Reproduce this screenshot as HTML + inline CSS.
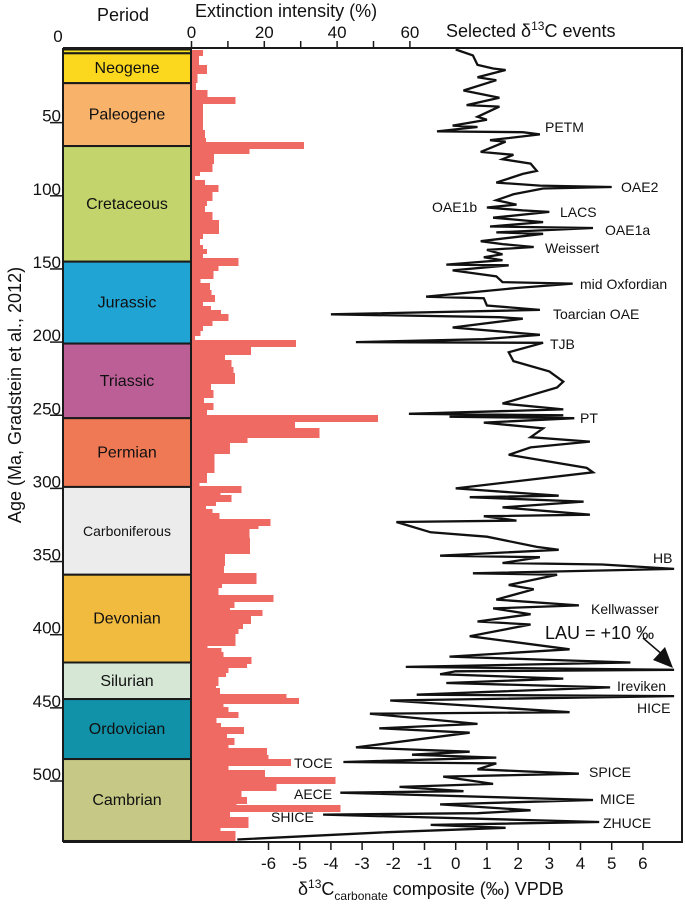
<!DOCTYPE html>
<html><head><meta charset="utf-8"><style>
html,body{margin:0;padding:0;background:#fff;}
svg{display:block;font-family:"Liberation Sans",Arial,sans-serif;}
</style></head><body>
<svg id="chart" width="685" height="904" viewBox="0 0 685 904" xmlns="http://www.w3.org/2000/svg">
<g id="periods"></g>
<g id="bars" shape-rendering="crispEdges"></g>
<g id="curve"></g>
<g id="axes"></g>
<g id="labels"></g>
</svg>
<script>
const periodNames=["","Neogene","Paleogene","Cretaceous","Jurassic","Triassic","Permian","Carboniferous","Devonian","Silurian","Ordovician","Cambrian"];
const periodStarts=[0,2.6,23,66,145,201,252,299,359,419,444,485];
const periodEnds=[2.6,23,66,145,201,252,299,359,419,444,485,541];
const periodColors=["#f9e31c","#fbd81e","#f8b26a","#c2d46b","#20a4d4","#bb5f96","#f07955","#ececec","#f1bb3f","#d6e8d5","#1192a8","#c6c985"];
const ageTicks=[50,100,150,200,250,300,350,400,450,500];
const extTicks=[0,10,20,30,40,50,60];
const extTickLabels=["0","","20","","40","","60"];
const d13Ticks=[-6,-5,-4,-3,-2,-1,0,1,2,3,4,5,6];
const extEdges=[0,3.8,10.6,16.3,22,27.7,32.2,36.8,55,60.7,63.4,67.5,71,77.8,83,85.8,89.2,92.6,96.7,102.9,106.3,110.8,116.5,125.6,129.1,133.6,136.4,139.3,142.7,147.3,150.7,156.4,159.8,164.4,167.8,171.9,175.1,178.1,181,184.9,188.3,191.7,195.1,198.6,202.4,208.4,212.2,216.8,221.3,228.2,232.7,237.3,241.8,245.7,249.8,254,259,264.6,268.5,
276,288.5,295.4,298.3,302.2,304.5,308.6,311.3,314.3,317,320.9,325,327.3,334.1,344.4,352.3,358,364.4,367.2,372.8,377,380.8,383.1,386.5,392.2,395.6,399,407,409.3,411.6,415,419.5,421.8,425.3,428.2,434.4,436.6,440.5,443.5,446.9,449.2,452.6,456,460.1,463.3,467.4,470.8,474.7,477.7,482.2,485.2,489.1,492.5,497,501.6,506.1,510.7,514.8,516.4,520.3,524.4,527.8,531.2,533.9,538,541];
const extValues=[3.1,2.1,4.2,1.6,1.2,4.4,12.1,3.1,3.7,4,30.9,15.9,6.2,5.8,2.3,1,3.7,7.4,5.8,4.2,3.7,5.8,7.5,3.2,2.3,3.2,4.2,3.1,12.9,7.4,6,2.5,5.1,5.5,6.5,3.2,5.3,8.1,10.1,5.8,3.1,2.5,1,28.7,16.4,9.2,11,11.5,11.9,5.4,6,3.4,6,4.2,51.3,28.4,35.1,15.4,10.6,
6.3,4.2,2.2,13.8,8,11,6.7,4,5.8,7.7,21.7,18.4,15.9,16.1,9.2,8.9,17.9,8.4,7.4,22.5,11.8,10.6,19.5,16.4,14.2,12.9,12.1,4.4,8.3,8.8,16.5,15.3,10.1,9.5,7.4,6.7,7.8,26.1,29.6,8.8,10.1,12.9,6.9,8.1,14.4,9.7,11.8,10.1,20.7,21.1,27.3,10.1,20.2,39.6,23.4,13.8,15.3,12.4,41,10.6,15.6,15.6,8,12.1,12.1];
const curveAges=[0,4,10.5,13,14,19,21,28,33,38,39,46,48,52,53,56,56.5,58,62,63,70,72,75,78,83,85,91,93,94,95,99,103,106,108,110,111,115,118,121,122,125,126,131,133,135,137,140,142,144,145,147,147.5,151,155,159,160,163,169,170,175,178,181,183,184,190,195,198,200,200.5,207,213,220,227,231,242,246,249,250,251,252,255,259,265,268,272,277,286,289,300,305,306,309,313,318,319,322,323,330,333,340,342,346,347,351,352,355,358,359,366,369,376,380,382,386,391,393,401,410,415,419,422,424,425,427,430,433,436,439,441,442,445,453,454,461,464,467,477,480,482,484,487,488,492,495,497,502,504,507,508,513,516,520,522,523,528,530,532,535,540];
const curveValues=[0,0.55,0.7,1.2,1.6,0.7,1.3,0.25,1.4,0.35,1.4,0.7,1.0,-0.1,0.7,-0.6,2.15,2.7,1.1,1.6,0.8,1.85,1.5,2.4,2.6,2.15,1.3,2.7,5.0,2.8,1.85,1.3,1.95,1.0,2.15,3.0,1.2,2.8,1.1,4.4,1.3,2.8,0.8,1.5,2.5,1.0,1.5,0.9,1.5,0.9,-0.3,1.7,-0.1,1.3,1.5,3.75,1.95,-0.95,0.9,1.0,2.7,-4.0,1.4,2.15,-0.1,2.7,0.9,-3.2,2.8,1.7,1.85,3.0,3.45,3.25,1.5,3.45,-1.5,3.45,-0.2,3.8,0.9,2.8,2.4,4.3,2.4,1.7,4.2,4.4,0.0,3.3,0.45,4.1,1.5,4.3,0.9,1.95,-1.9,-0.8,1.0,2.6,3.3,-0.5,2.7,1.5,4.7,7.0,0.55,3.25,1.7,2.5,1.3,3.95,1.2,2.4,0.7,2.4,0.45,3.65,-0.2,5.6,-1.6,7.0,0.0,-0.5,3.45,-0.3,4.95,1.1,-1.25,7.0,-2.1,3.65,-2.75,0.7,-2.45,0.45,-3.2,0.45,-1.4,1.3,-3.6,1.3,0.7,3.95,-0.4,1.2,-1.8,0.25,-3.7,4.4,-0.5,2.4,0.7,-4.25,4.6,-0.8,1.6,-2.2,-7.0];
const eventNames=["PETM","OAE2","OAE1b","LACS","OAE1a","Weissert","mid Oxfordian","Toarcian OAE","TJB","PT","HB","Kellwasser","Ireviken","HICE","TOCE","AECE","SHICE","SPICE","MICE","ZHUCE"];

const NS="http://www.w3.org/2000/svg";
const X0=63,XP=191,XR=682,YT=48,YB=842;
function yAge(a){return 49.5+1.463*a;}
function xExt(p){return 191.5+3.64*p;}
function xD(v){return 455.7+31.2*v;}
function mk(tag,attrs,parent,txt){const e=document.createElementNS(NS,tag);for(const k in attrs)e.setAttribute(k,attrs[k]);if(txt!==undefined)e.textContent=txt;parent.appendChild(e);return e;}

const gP=document.getElementById('periods');
periodNames.forEach((n,i)=>{
  const y1=yAge(periodStarts[i]),y2=yAge(periodEnds[i]);
  const r=mk('rect',{x:X0,y:Math.max(y1,YT),width:XP-X0,height:y2-Math.max(y1,YT),fill:periodColors[i],stroke:'#1a1a1a','stroke-width':2},gP);
  
  
  if(n){const t=mk('text',{x:(X0+XP)/2,y:(y1+y2)/2+5,'text-anchor':'middle','font-size':n==='Carboniferous'?14:16,fill:'#111'},gP,n);
  
  }
});

const gB=document.getElementById('bars');
extValues.forEach((v,i)=>{
  const y1=Math.round(yAge(extEdges[i])),y2=Math.round(yAge(extEdges[i+1]));
  const yy=Math.max(y1,YT);
  const r=mk('rect',{x:XP,y:yy,width:xExt(v)-XP,height:y2-yy+1,fill:'#f06a64'},gB);
  
  
});

const gC=document.getElementById('curve');
mk('clipPath',{id:'clipbox'},gC).appendChild((()=>{const r=document.createElementNS(NS,'rect');r.setAttribute('x',XP);r.setAttribute('y',YT);r.setAttribute('width',XR-XP);r.setAttribute('height',YB-YT);return r;})());
let d=curveAges.map((a,i)=>(i?'L':'M')+xD(curveValues[i]).toFixed(1)+' '+yAge(a).toFixed(1)).join(' ');
const path=mk('path',{d:d,fill:'none',stroke:'#111','stroke-width':2.3,'stroke-linejoin':'miter','clip-path':'url(#clipbox)'},gC);



const gA=document.getElementById('axes');
const box=mk('rect',{x:XP,y:YT,width:XR-XP,height:YB-YT,fill:'none',stroke:'#1a1a1a','stroke-width':2},gA);

mk('line',{x1:X0,y1:YT,x2:XR,y2:YT,stroke:'#1a1a1a','stroke-width':2},gA);
mk('line',{x1:X0,y1:YB,x2:XR,y2:YB,stroke:'#1a1a1a','stroke-width':2},gA);
mk('line',{x1:X0,y1:YT,x2:X0,y2:YB,stroke:'#1a1a1a','stroke-width':2},gA);
ageTicks.forEach(a=>{const y=yAge(a);
  mk('line',{x1:50,y1:y,x2:X0,y2:y,stroke:'#1a1a1a','stroke-width':1.5},gA);
  const t=mk('text',{x:61,y:y-1,'text-anchor':'end','font-size':17,fill:'#111'},gA,String(a));
  });
const t0=mk('text',{x:58,y:42,'text-anchor':'middle','font-size':17,fill:'#111'},gA,'0');

extTicks.forEach((p,i)=>{const x=xExt(p);
  mk('line',{x1:x,y1:YT,x2:x,y2:YT-7,stroke:'#1a1a1a','stroke-width':1.5},gA);
  if(extTickLabels[i]){const t=mk('text',{x:x,y:38,'text-anchor':'middle','font-size':17,fill:'#111'},gA,extTickLabels[i]);
  }});
d13Ticks.forEach(v=>{const x=xD(v);
  mk('line',{x1:x,y1:YB,x2:x,y2:YB+8,stroke:'#1a1a1a','stroke-width':1.5},gA);
  const t=mk('text',{x:x,y:869,'text-anchor':'middle','font-size':17,fill:'#111'},gA,String(v));
  });
function title(x,y,txt,name,extra){const t=mk('text',Object.assign({x:x,y:y,'font-size':18,fill:'#111'},extra||{}),gA,txt);return t;}
title(97,21,'Period','period-title');
title(195,17,'Extinction intensity (%)','extinction-axis-title');
const st=title(446,37,'Selected δ','events-title');
mk('tspan',{dy:-7,'font-size':12},st,'13');mk('tspan',{dy:7},st,'C events');
const yt=title(0,0,'Age (Ma, Gradstein et al., 2012)','age-axis-title',{transform:'translate(21,395) rotate(-90)','text-anchor':'middle'});
const bt=title(298,895,'δ','d13c-axis-title');
mk('tspan',{dy:-7,'font-size':12},bt,'13');mk('tspan',{dy:7},bt,'C');mk('tspan',{dy:5,'font-size':12},bt,'carbonate');mk('tspan',{dy:-5},bt,' composite (‰) VPDB');

const gL=document.getElementById('labels');
const labelX=[545,621,432,560,605,545,580,553,550,580,653,591,617,637,294,294,271,589,600,603];
const labelY=[132,192,212,217,235,253,289,319,349,423,563,614,691,713,768,799,822,777,804,828];
eventNames.forEach((n,i)=>{const t=mk('text',{x:labelX[i],y:labelY[i],'font-size':14,fill:'#111'},gL,n);
  });
const lau=mk('text',{x:545,y:639,'font-size':18,fill:'#111'},gL,'LAU = +10 ‰');

const ar=mk('line',{x1:643,y1:638,x2:664,y2:656,stroke:'#111','stroke-width':1.5},gL);

const ah=mk('polygon',{points:'673,668 653,660 665,647',fill:'#111'},gL);

</script>
</body></html>
